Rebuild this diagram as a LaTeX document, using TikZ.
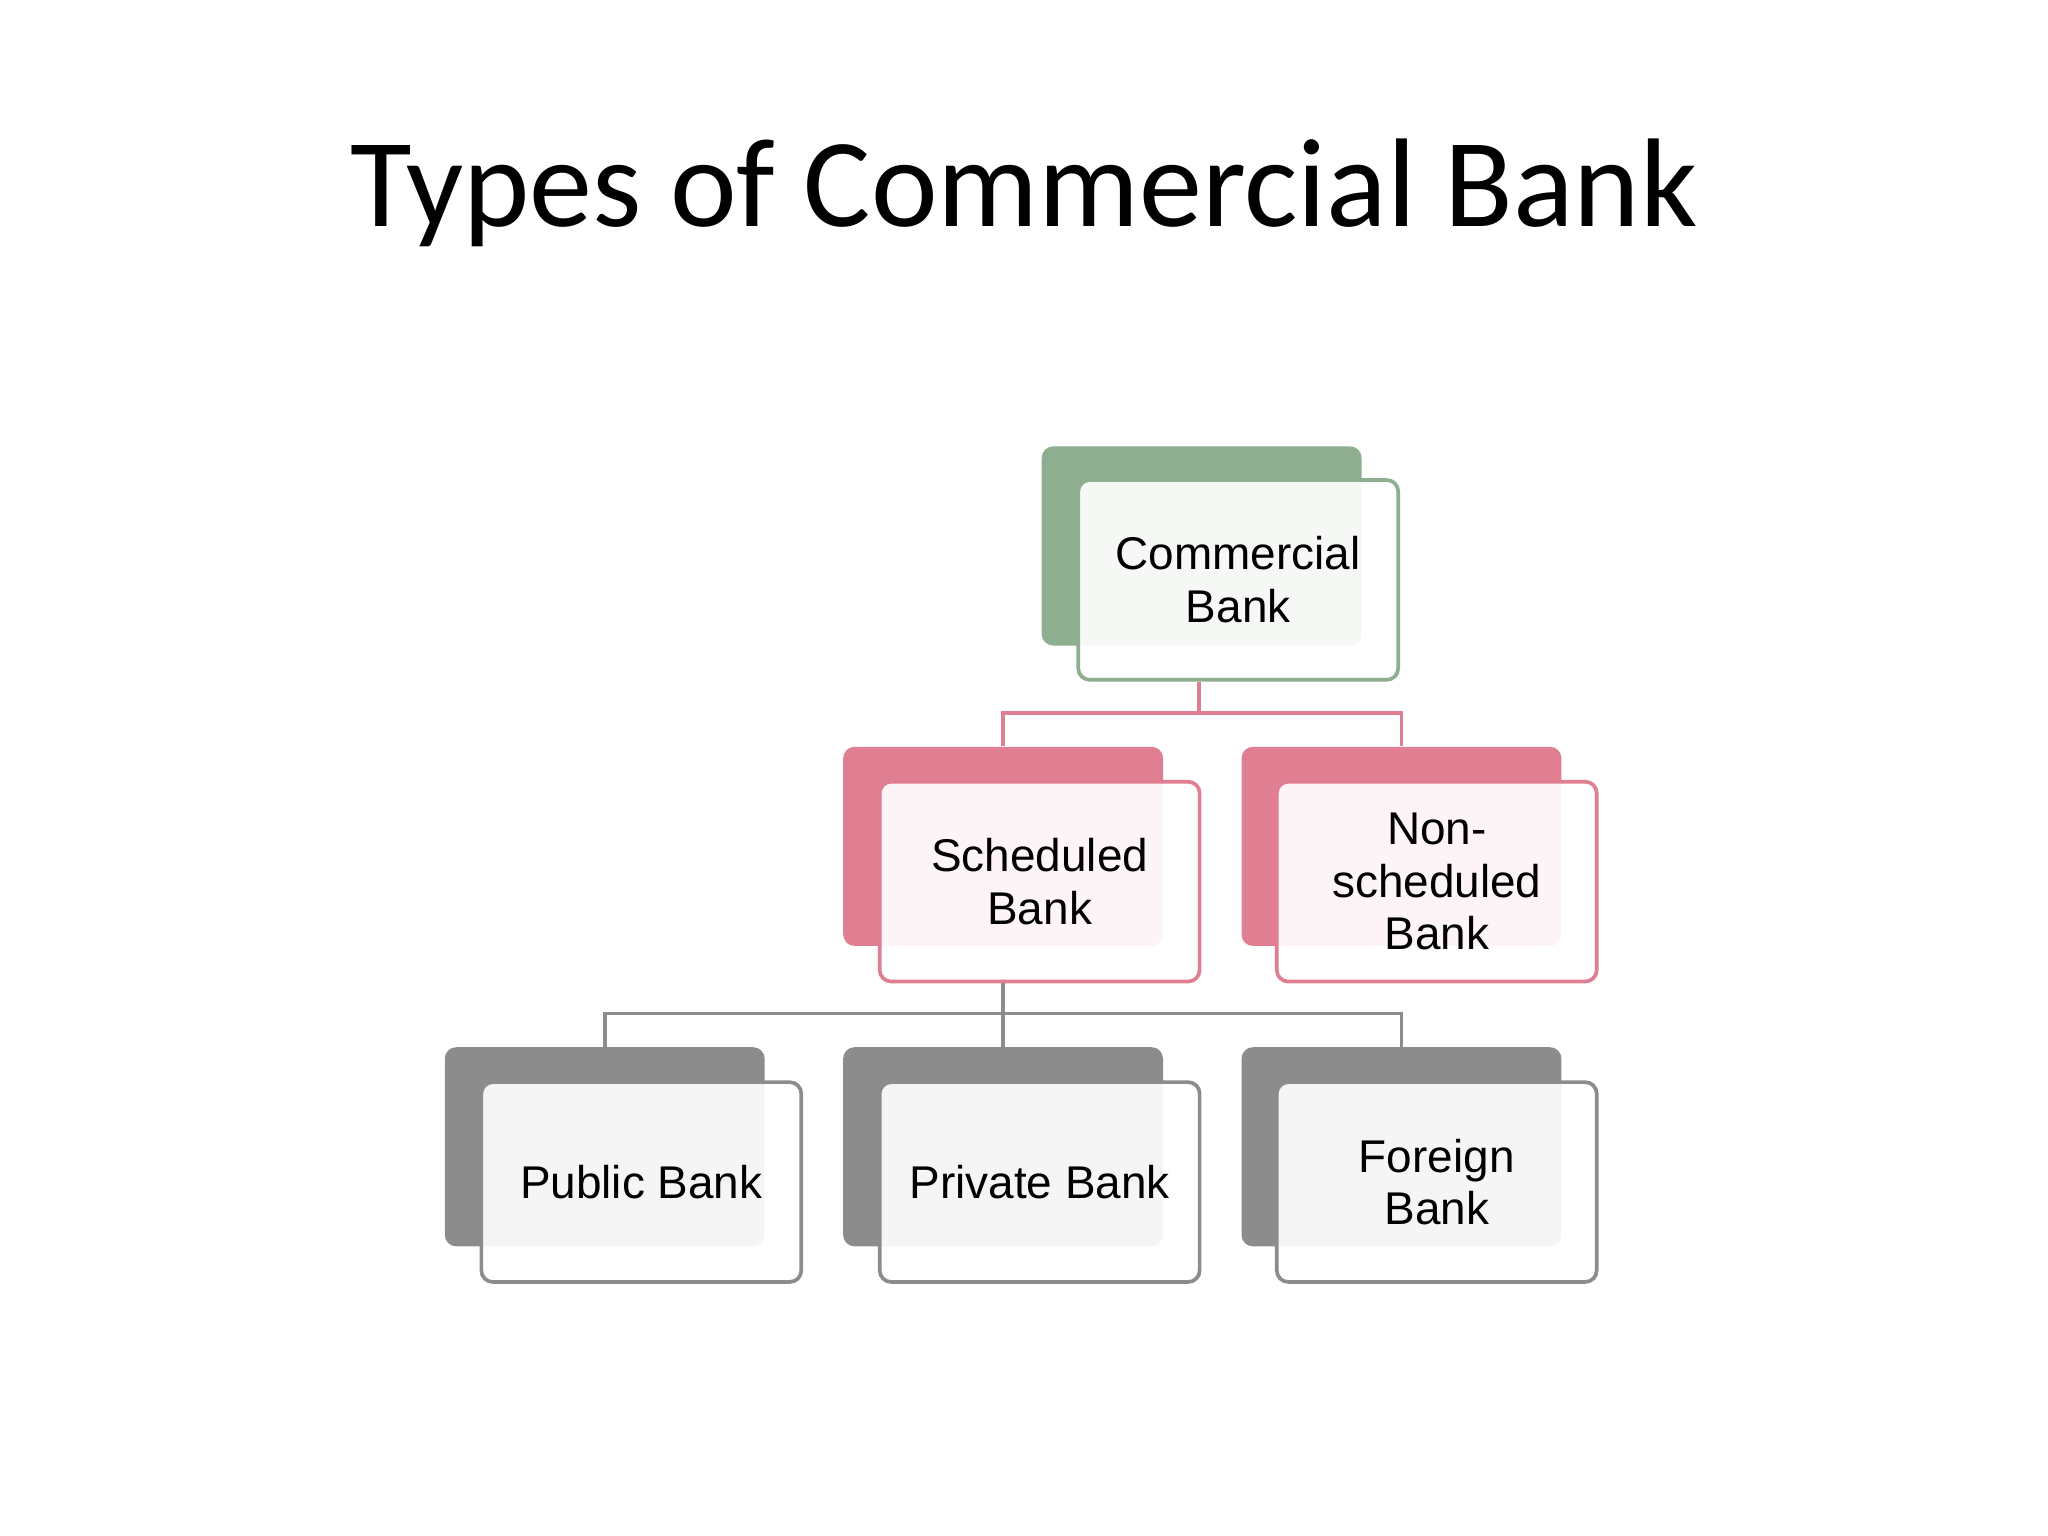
\documentclass[tikz,border=0pt]{standalone}
\usepackage{fontspec}
\setmainfont{Liberation Sans}
\newfontfamily\titlefont{Carlito}
\definecolor{cgreen}{HTML}{8FAD8F}
\definecolor{cpink}{HTML}{E07F91}
\definecolor{cgray}{HTML}{8C8C8C}
\begin{document}
\begin{tikzpicture}[x=0.02cm,y=-0.02cm,
  back/.style={draw=none,rounded corners=5pt,minimum width=4.9cm,minimum height=3.05cm,inner sep=0pt},
  front/.style={rounded corners=5pt,line width=1.6pt,minimum width=4.9cm,minimum height=3.06cm,fill=white,fill opacity=0.92,text opacity=1,align=center,font=\fontsize{20}{23}\selectfont,inner sep=0pt},
  conn/.style={line width=1.6pt}]
\fill[white] (0,0) rectangle (1568,1176);
\node[font=\titlefont\fontsize{55}{60}\selectfont] (title) at (784,148) {Types of Commercial Bank};
% Commercial
\node[back,fill=cgreen] (cb0) at (920,418) {};
\node[front,draw=cgreen] (cb) at (948,444) {Commercial\\Bank};
% level 2
\node[back,fill=cpink] (sb0) at (768,648) {};
\node[front,draw=cpink] (sb) at (796,675) {Scheduled\\Bank};
\node[back,fill=cpink] (nb0) at (1073,648) {};
\node[front,draw=cpink] (nb) at (1100,675) {Non-\\scheduled\\Bank};
% level 3
\node[back,fill=cgray] (pb0) at (463,878) {};
\node[front,draw=cgray] (pb) at (491,905) {Public Bank};
\node[back,fill=cgray] (vb0) at (768,878) {};
\node[front,draw=cgray] (vb) at (796,905) {Private Bank};
\node[back,fill=cgray] (fb0) at (1073,878) {};
\node[front,draw=cgray] (fb) at (1100,905) {Foreign\\Bank};
% connectors
\coordinate (j1) at (918,546);
\draw[conn,cpink] (cb.south -| j1) -- (j1);
\draw[conn,cpink] (sb0.north) |- (j1) -| (nb0.north);
\coordinate (j2) at (768,776);
\draw[conn,cgray] (sb.south -| j2) -- (j2);
\draw[conn,cgray] (pb0.north) |- (j2) -| (fb0.north);
\draw[conn,cgray] (j2) -- (vb0.north);
\end{tikzpicture}
\end{document}
